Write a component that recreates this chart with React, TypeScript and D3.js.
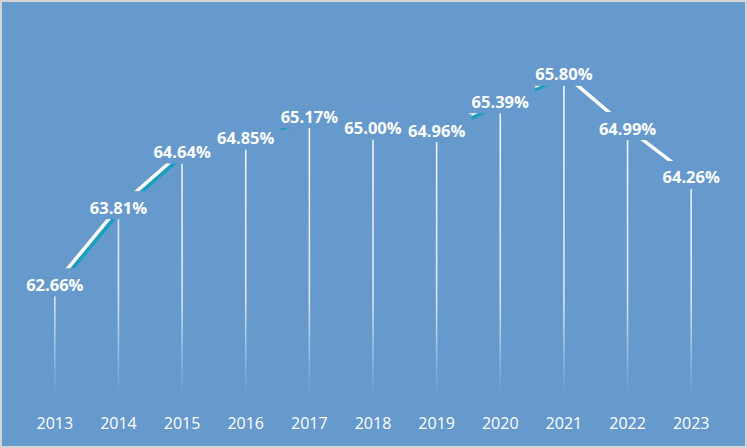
import * as d3 from "d3";

const years = ["2013", "2014", "2015", "2016", "2017", "2018", "2019", "2020", "2021", "2022", "2023"];
const rates = [62.66, 63.81, 64.64, 64.85, 65.17, 65.0, 64.96, 65.39, 65.8, 64.99, 64.26];

const width = 747;
const height = 448;
const bg = "#6699cc";

export default function App() {
  const x = d3.scaleBand(years, [23, 723]);
  const cx = (yr: string) => (x(yr) ?? 0) + x.bandwidth() / 2;
  const y = d3.scaleLinear([61.2, 66], [394, 72.4]);
  const labelY = (v: number) => y(v) - 12;

  const pts = years.map((yr, i) => ({ yr, v: rates[i] }));
  const line = d3.line<{ yr: string; v: number }>((d) => cx(d.yr), (d) => labelY(d.v));
  const path = line(pts) ?? "";

  return (
    <svg
      width={width}
      height={height}
      style={{ position: "absolute", left: 0, top: 0, display: "block" }}
    >
      <defs>
        <linearGradient id="drop" gradientUnits="userSpaceOnUse" x1={0} y1={72} x2={0} y2={396}>
          <stop offset="0" stopColor="#fff" stopOpacity={0.95} />
          <stop offset="0.7" stopColor="#fff" stopOpacity={0.75} />
          <stop offset="1" stopColor="#fff" stopOpacity={0} />
        </linearGradient>
      </defs>
      <rect x={1} y={1} width={width - 2} height={height - 2} fill={bg} stroke="#d4d4d4" strokeWidth={2} />

      {/* drop lines */}
      <g>
        {pts.map((d) => (
          <line
            key={d.yr}
            x1={cx(d.yr)}
            x2={cx(d.yr)}
            y1={y(d.v)}
            y2={y(61.2)}
            stroke="url(#drop)"
            strokeWidth={1.6}
          />
        ))}
      </g>

      {/* line with shadow */}
      <path d={path} fill="none" stroke="#1a9fc0" strokeWidth={3.5} transform="translate(2.8,2.4)" />
      <path d={path} fill="none" stroke="#ffffff" strokeWidth={3.5} />

      {/* data labels */}
      <g fontFamily="'Open Sans', sans-serif" fontWeight="bold" fontSize={16.5} fill="#fff">
        {pts.map((d) => (
          <g key={d.yr}>
            <rect x={cx(d.yr) - 35} y={labelY(d.v) - 16} width={70} height={28} fill={bg} />
            <text x={cx(d.yr)} y={labelY(d.v)} textAnchor="middle" dominantBaseline="central">
              {d.v.toFixed(2)}%
            </text>
          </g>
        ))}
      </g>

      {/* year labels */}
      <g fontFamily="'Open Sans', sans-serif" fontSize={16} fill="#fff">
        {years.map((yr) => (
          <text key={yr} x={cx(yr)} y={423} textAnchor="middle" dominantBaseline="central">
            {yr}
          </text>
        ))}
      </g>
    </svg>
  );
}
